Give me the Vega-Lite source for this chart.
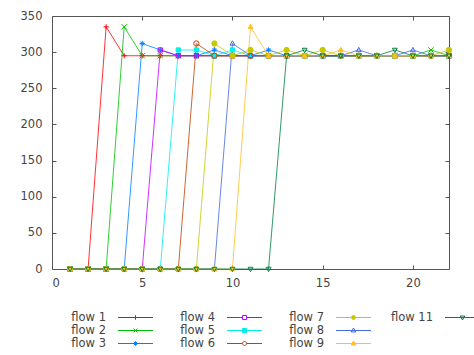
{
  "$schema": "https://vega.github.io/schema/vega-lite/v6.json",
  "width": 397,
  "height": 253,
  "autosize": {"type": "none"},
  "padding": {"left": 52, "top": 16, "right": 25, "bottom": 86},
  "background": "white",
  "config": {
    "view": {"stroke": "#555555", "strokeWidth": 1},
    "font": "DejaVu Sans",
    "axis": {"grid": false, "domain": false, "tickColor": "#555555", "tickSize": -4, "labelFont": "DejaVu Sans", "labelFontSize": 11.5, "labelColor": "#444444", "title": null},
    "legend": {"orient": "none", "title": null, "symbolSize": 144, "symbolStrokeWidth": 1, "labelAlign": "right", "labelOffset": -36, "labelFont": "DejaVu Sans", "labelFontSize": 11.5, "labelColor": "#444444", "rowPadding": 1}
  },
  "data": {"values": [
    {"f":"flow 1","t":1,"v":0},{"f":"flow 1","t":2,"v":0},{"f":"flow 1","t":3,"v":335},{"f":"flow 1","t":4,"v":295},{"f":"flow 1","t":5,"v":295},{"f":"flow 1","t":6,"v":295},{"f":"flow 1","t":7,"v":295},{"f":"flow 1","t":8,"v":295},{"f":"flow 1","t":9,"v":295},{"f":"flow 1","t":10,"v":295},{"f":"flow 1","t":11,"v":295},{"f":"flow 1","t":12,"v":295},{"f":"flow 1","t":13,"v":295},{"f":"flow 1","t":14,"v":295},{"f":"flow 1","t":15,"v":295},{"f":"flow 1","t":16,"v":295},{"f":"flow 1","t":17,"v":295},{"f":"flow 1","t":18,"v":295},{"f":"flow 1","t":19,"v":295},{"f":"flow 1","t":20,"v":295},{"f":"flow 1","t":21,"v":295},{"f":"flow 1","t":22,"v":295},
    {"f":"flow 2","t":1,"v":0},{"f":"flow 2","t":2,"v":0},{"f":"flow 2","t":3,"v":0},{"f":"flow 2","t":4,"v":335},{"f":"flow 2","t":5,"v":295},{"f":"flow 2","t":6,"v":295},{"f":"flow 2","t":7,"v":295},{"f":"flow 2","t":8,"v":295},{"f":"flow 2","t":9,"v":295},{"f":"flow 2","t":10,"v":295},{"f":"flow 2","t":11,"v":295},{"f":"flow 2","t":12,"v":295},{"f":"flow 2","t":13,"v":295},{"f":"flow 2","t":14,"v":295},{"f":"flow 2","t":15,"v":295},{"f":"flow 2","t":16,"v":295},{"f":"flow 2","t":17,"v":295},{"f":"flow 2","t":18,"v":295},{"f":"flow 2","t":19,"v":295},{"f":"flow 2","t":20,"v":295},{"f":"flow 2","t":21,"v":303},{"f":"flow 2","t":22,"v":295},
    {"f":"flow 3","t":1,"v":0},{"f":"flow 3","t":2,"v":0},{"f":"flow 3","t":3,"v":0},{"f":"flow 3","t":4,"v":0},{"f":"flow 3","t":5,"v":312},{"f":"flow 3","t":6,"v":303},{"f":"flow 3","t":7,"v":295},{"f":"flow 3","t":8,"v":295},{"f":"flow 3","t":9,"v":303},{"f":"flow 3","t":10,"v":295},{"f":"flow 3","t":11,"v":295},{"f":"flow 3","t":12,"v":303},{"f":"flow 3","t":13,"v":295},{"f":"flow 3","t":14,"v":295},{"f":"flow 3","t":15,"v":295},{"f":"flow 3","t":16,"v":295},{"f":"flow 3","t":17,"v":295},{"f":"flow 3","t":18,"v":295},{"f":"flow 3","t":19,"v":295},{"f":"flow 3","t":20,"v":295},{"f":"flow 3","t":21,"v":295},{"f":"flow 3","t":22,"v":295},
    {"f":"flow 4","t":1,"v":0},{"f":"flow 4","t":2,"v":0},{"f":"flow 4","t":3,"v":0},{"f":"flow 4","t":4,"v":0},{"f":"flow 4","t":5,"v":0},{"f":"flow 4","t":6,"v":303},{"f":"flow 4","t":7,"v":295},{"f":"flow 4","t":8,"v":295},{"f":"flow 4","t":9,"v":295},{"f":"flow 4","t":10,"v":295},{"f":"flow 4","t":11,"v":295},{"f":"flow 4","t":12,"v":295},{"f":"flow 4","t":13,"v":295},{"f":"flow 4","t":14,"v":295},{"f":"flow 4","t":15,"v":295},{"f":"flow 4","t":16,"v":295},{"f":"flow 4","t":17,"v":295},{"f":"flow 4","t":18,"v":295},{"f":"flow 4","t":19,"v":295},{"f":"flow 4","t":20,"v":295},{"f":"flow 4","t":21,"v":295},{"f":"flow 4","t":22,"v":295},
    {"f":"flow 5","t":1,"v":0},{"f":"flow 5","t":2,"v":0},{"f":"flow 5","t":3,"v":0},{"f":"flow 5","t":4,"v":0},{"f":"flow 5","t":5,"v":0},{"f":"flow 5","t":6,"v":0},{"f":"flow 5","t":7,"v":303},{"f":"flow 5","t":8,"v":303},{"f":"flow 5","t":9,"v":295},{"f":"flow 5","t":10,"v":303},{"f":"flow 5","t":11,"v":295},{"f":"flow 5","t":12,"v":295},{"f":"flow 5","t":13,"v":295},{"f":"flow 5","t":14,"v":295},{"f":"flow 5","t":15,"v":295},{"f":"flow 5","t":16,"v":295},{"f":"flow 5","t":17,"v":295},{"f":"flow 5","t":18,"v":295},{"f":"flow 5","t":19,"v":295},{"f":"flow 5","t":20,"v":295},{"f":"flow 5","t":21,"v":295},{"f":"flow 5","t":22,"v":295},
    {"f":"flow 6","t":1,"v":0},{"f":"flow 6","t":2,"v":0},{"f":"flow 6","t":3,"v":0},{"f":"flow 6","t":4,"v":0},{"f":"flow 6","t":5,"v":0},{"f":"flow 6","t":6,"v":0},{"f":"flow 6","t":7,"v":0},{"f":"flow 6","t":8,"v":312},{"f":"flow 6","t":9,"v":295},{"f":"flow 6","t":10,"v":295},{"f":"flow 6","t":11,"v":295},{"f":"flow 6","t":12,"v":295},{"f":"flow 6","t":13,"v":295},{"f":"flow 6","t":14,"v":295},{"f":"flow 6","t":15,"v":295},{"f":"flow 6","t":16,"v":295},{"f":"flow 6","t":17,"v":295},{"f":"flow 6","t":18,"v":295},{"f":"flow 6","t":19,"v":295},{"f":"flow 6","t":20,"v":295},{"f":"flow 6","t":21,"v":295},{"f":"flow 6","t":22,"v":295},
    {"f":"flow 7","t":1,"v":0},{"f":"flow 7","t":2,"v":0},{"f":"flow 7","t":3,"v":0},{"f":"flow 7","t":4,"v":0},{"f":"flow 7","t":5,"v":0},{"f":"flow 7","t":6,"v":0},{"f":"flow 7","t":7,"v":0},{"f":"flow 7","t":8,"v":0},{"f":"flow 7","t":9,"v":312},{"f":"flow 7","t":10,"v":295},{"f":"flow 7","t":11,"v":303},{"f":"flow 7","t":12,"v":295},{"f":"flow 7","t":13,"v":303},{"f":"flow 7","t":14,"v":295},{"f":"flow 7","t":15,"v":303},{"f":"flow 7","t":16,"v":295},{"f":"flow 7","t":17,"v":295},{"f":"flow 7","t":18,"v":295},{"f":"flow 7","t":19,"v":295},{"f":"flow 7","t":20,"v":295},{"f":"flow 7","t":21,"v":295},{"f":"flow 7","t":22,"v":303},
    {"f":"flow 8","t":1,"v":0},{"f":"flow 8","t":2,"v":0},{"f":"flow 8","t":3,"v":0},{"f":"flow 8","t":4,"v":0},{"f":"flow 8","t":5,"v":0},{"f":"flow 8","t":6,"v":0},{"f":"flow 8","t":7,"v":0},{"f":"flow 8","t":8,"v":0},{"f":"flow 8","t":9,"v":0},{"f":"flow 8","t":10,"v":312},{"f":"flow 8","t":11,"v":295},{"f":"flow 8","t":12,"v":295},{"f":"flow 8","t":13,"v":295},{"f":"flow 8","t":14,"v":295},{"f":"flow 8","t":15,"v":295},{"f":"flow 8","t":16,"v":295},{"f":"flow 8","t":17,"v":303},{"f":"flow 8","t":18,"v":295},{"f":"flow 8","t":19,"v":295},{"f":"flow 8","t":20,"v":303},{"f":"flow 8","t":21,"v":295},{"f":"flow 8","t":22,"v":295},
    {"f":"flow 9","t":1,"v":0},{"f":"flow 9","t":2,"v":0},{"f":"flow 9","t":3,"v":0},{"f":"flow 9","t":4,"v":0},{"f":"flow 9","t":5,"v":0},{"f":"flow 9","t":6,"v":0},{"f":"flow 9","t":7,"v":0},{"f":"flow 9","t":8,"v":0},{"f":"flow 9","t":9,"v":0},{"f":"flow 9","t":10,"v":0},{"f":"flow 9","t":11,"v":335},{"f":"flow 9","t":12,"v":295},{"f":"flow 9","t":13,"v":295},{"f":"flow 9","t":14,"v":295},{"f":"flow 9","t":15,"v":295},{"f":"flow 9","t":16,"v":303},{"f":"flow 9","t":17,"v":295},{"f":"flow 9","t":18,"v":295},{"f":"flow 9","t":19,"v":295},{"f":"flow 9","t":20,"v":295},{"f":"flow 9","t":21,"v":295},{"f":"flow 9","t":22,"v":295},
    {"f":"flow 11","t":1,"v":0},{"f":"flow 11","t":2,"v":0},{"f":"flow 11","t":3,"v":0},{"f":"flow 11","t":4,"v":0},{"f":"flow 11","t":5,"v":0},{"f":"flow 11","t":6,"v":0},{"f":"flow 11","t":7,"v":0},{"f":"flow 11","t":8,"v":0},{"f":"flow 11","t":9,"v":0},{"f":"flow 11","t":10,"v":0},{"f":"flow 11","t":11,"v":0},{"f":"flow 11","t":12,"v":0},{"f":"flow 11","t":13,"v":295},{"f":"flow 11","t":14,"v":303},{"f":"flow 11","t":15,"v":295},{"f":"flow 11","t":16,"v":295},{"f":"flow 11","t":17,"v":295},{"f":"flow 11","t":18,"v":295},{"f":"flow 11","t":19,"v":303},{"f":"flow 11","t":20,"v":295},{"f":"flow 11","t":21,"v":295},{"f":"flow 11","t":22,"v":295}
  ]},
  "layer": [
    {
      "encoding": {
        "x": {"field": "t", "type": "quantitative", "scale": {"domain": [0, 22], "nice": false, "zero": false}, "axis": {"values": [0, 5, 10, 15, 20], "labelPadding": 12}},
        "y": {"field": "v", "type": "quantitative", "scale": {"domain": [0, 350], "nice": false}, "axis": {"values": [0, 50, 100, 150, 200, 250, 300, 350], "labelPadding": 14}}
      },
      "layer": [
        {
          "mark": {"type": "line", "strokeWidth": 1, "opacity": 0.8},
          "encoding": {
            "color": {"field": "f", "type": "nominal", "scale": {"domain": ["flow 1","flow 2","flow 3","flow 4","flow 5","flow 6","flow 7","flow 8","flow 9","flow 11"], "range": ["#ff0000","#00c000","#0080ff","#c000ff","#00eeee","#c04000","#c8c800","#4169e1","#ffc020","#008040"]}, "legend": null},
            "order": {"field": "t", "type": "quantitative"}
          }
        },
        {
          "mark": {"type": "point", "filled": false, "opacity": 1, "size": 28, "strokeWidth": 1},
          "encoding": {
            "color": {"field": "f", "type": "nominal", "scale": {"domain": ["flow 1","flow 2","flow 3","flow 4","flow 5","flow 6","flow 7","flow 8","flow 9","flow 11"], "range": ["#ff0000","#00c000","#0080ff","#c000ff","#00eeee","#c04000","#c8c800","#4169e1","#ffc020","#008040"]}, "legend": null},
            "fill": {"field": "f", "type": "nominal", "scale": {"domain": ["flow 1","flow 2","flow 3","flow 4","flow 5","flow 6","flow 7","flow 8","flow 9","flow 11"], "range": ["transparent","transparent","transparent","transparent","#00eeee","transparent","#c8c800","transparent","#ffc020","transparent"]}, "legend": null},
            "shape": {"field": "f", "type": "nominal", "scale": {"domain": ["flow 1","flow 2","flow 3","flow 4","flow 5","flow 6","flow 7","flow 8","flow 9","flow 11"], "range": ["M-1,0H1M0,-1V1","M-1,-1L1,1M-1,1L1,-1","M-1,0H1M0,-1V1M-0.7,-0.7L0.7,0.7M-0.7,0.7L0.7,-0.7","M-0.8,-0.8H0.8V0.8H-0.8Z","M-0.8,-0.8H0.8V0.8H-0.8Z","circle","circle","M0,-1L0.9,0.65H-0.9Z","M0,-1L0.9,0.65H-0.9Z","M0,1L0.9,-0.65H-0.9Z"]}, "legend": null}
          }
        }
      ]
    },
    {
      "transform": [{"filter": "false"}],
      "mark": {"type": "point"},
      "encoding": {
        "x": {"field": "t", "type": "quantitative", "scale": {"domain": [0, 22], "nice": false, "zero": false}, "axis": {"orient": "top", "values": [0, 5, 10, 15, 20], "labels": false}},
        "y": {"field": "v", "type": "quantitative", "scale": {"domain": [0, 350], "nice": false}, "axis": {"orient": "right", "values": [0, 50, 100, 150, 200, 250, 300, 350], "labels": false}}
      }
    },
    {
      "transform": [{"filter": "false"}],
      "mark": {"type": "point", "filled": false, "opacity": 1, "strokeWidth": 1},
      "encoding": {
        "color": {"field": "f", "type": "nominal", "scale": {"domain": ["flow 1","flow 2","flow 3"], "range": ["#ff0000","#00c000","#0080ff"]}, "legend": {"legendX": 77, "legendY": 295}},
        "fill": {"field": "f", "type": "nominal", "scale": {"domain": ["flow 1","flow 2","flow 3"], "range": ["transparent","transparent","transparent"]}, "legend": {"legendX": 77, "legendY": 295}},
        "shape": {"field": "f", "type": "nominal", "scale": {"domain": ["flow 1","flow 2","flow 3"], "range": ["M-2.92,0H2.92M0,-0.38V0.38","M-2.92,0H2.92M-0.32,-0.32L0.32,0.32M-0.32,0.32L0.32,-0.32","M-2.92,0H2.92M0,-0.38V0.38M-0.27,-0.27L0.27,0.27M-0.27,0.27L0.27,-0.27"]}, "legend": {"legendX": 77, "legendY": 295}}
      }
    },
    {
      "transform": [{"filter": "false"}],
      "mark": {"type": "point", "filled": false, "opacity": 1, "strokeWidth": 1},
      "encoding": {
        "color": {"field": "f", "type": "nominal", "scale": {"domain": ["flow 4","flow 5","flow 6"], "range": ["#c000ff","#00eeee","#c04000"]}, "legend": {"legendX": 186, "legendY": 295}},
        "fill": {"field": "f", "type": "nominal", "scale": {"domain": ["flow 4","flow 5","flow 6"], "range": ["transparent","#00eeee","transparent"]}, "legend": {"legendX": 186, "legendY": 295}},
        "shape": {"field": "f", "type": "nominal", "scale": {"domain": ["flow 4","flow 5","flow 6"], "range": ["M-2.92,0H-0.34M0.34,0H2.92M-0.34,-0.34H0.34V0.34H-0.34Z","M-2.92,0H-0.34M0.34,0H2.92M-0.34,-0.34H0.34V0.34H-0.34Z","M-2.92,0H-0.33M0.33,0H2.92M-0.33,0A0.33,0.33,0,1,0,0.33,0A0.33,0.33,0,1,0,-0.33,0Z"]}, "legend": {"legendX": 186, "legendY": 295}}
      }
    },
    {
      "transform": [{"filter": "false"}],
      "mark": {"type": "point", "filled": false, "opacity": 1, "strokeWidth": 1},
      "encoding": {
        "color": {"field": "f", "type": "nominal", "scale": {"domain": ["flow 7","flow 8","flow 9"], "range": ["#c8c800","#4169e1","#ffc020"]}, "legend": {"legendX": 295, "legendY": 295}},
        "fill": {"field": "f", "type": "nominal", "scale": {"domain": ["flow 7","flow 8","flow 9"], "range": ["#c8c800","transparent","#ffc020"]}, "legend": {"legendX": 295, "legendY": 295}},
        "shape": {"field": "f", "type": "nominal", "scale": {"domain": ["flow 7","flow 8","flow 9"], "range": ["M-2.92,0H-0.33M0.33,0H2.92M-0.33,0A0.33,0.33,0,1,0,0.33,0A0.33,0.33,0,1,0,-0.33,0Z","M-2.92,0H2.92M0,-0.42L0.38,0.25H-0.38Z","M-2.92,0H2.92M0,-0.42L0.38,0.25H-0.38Z"]}, "legend": {"legendX": 295, "legendY": 295}}
      }
    },
    {
      "transform": [{"filter": "false"}],
      "mark": {"type": "point", "filled": false, "opacity": 1, "strokeWidth": 1},
      "encoding": {
        "color": {"field": "f", "type": "nominal", "scale": {"domain": ["flow 11"], "range": ["#008040"]}, "legend": {"legendX": 404, "legendY": 295}},
        "fill": {"field": "f", "type": "nominal", "scale": {"domain": ["flow 11"], "range": ["transparent"]}, "legend": {"legendX": 404, "legendY": 295}},
        "shape": {"field": "f", "type": "nominal", "scale": {"domain": ["flow 11"], "range": ["M-2.92,0H2.92M0,0.42L0.38,-0.25H-0.38Z"]}, "legend": {"legendX": 404, "legendY": 295}}
      }
    }
  ],
  "resolve": {
    "scale": {"color": "independent", "fill": "independent", "shape": "independent"},
    "axis": {"x": "independent", "y": "independent"}
  }
}
